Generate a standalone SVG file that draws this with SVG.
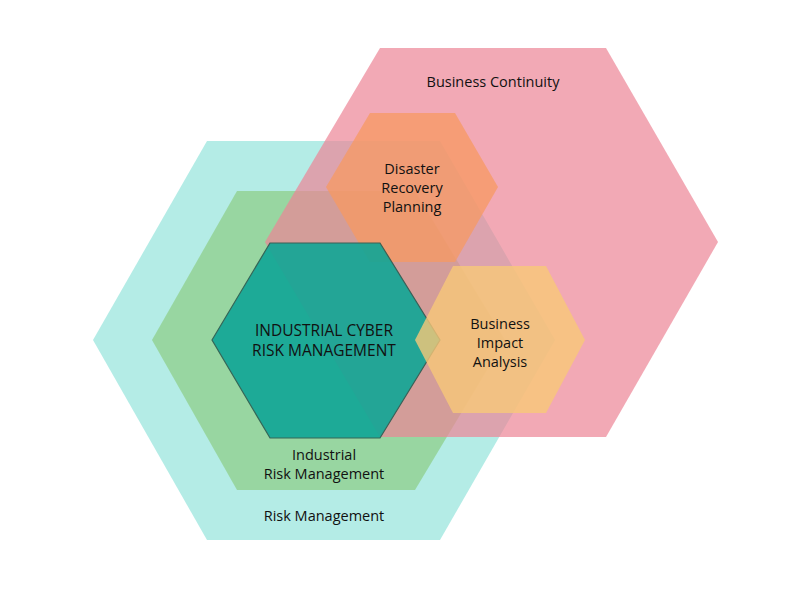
<svg xmlns="http://www.w3.org/2000/svg" width="800" height="591" viewBox="0 0 800 591">
<style>
.t{font-family:"Open Sans","Liberation Sans",sans-serif;font-size:14.5px;fill:#111;text-anchor:middle;font-weight:500}
.b{font-size:15.5px}
</style>
<rect width="800" height="591" fill="#fff"/>
<g id="risk-management"><polygon points="93,340 207,141 440,141 555,340 440,540 207,540" fill="#b4ece6"/></g>
<g id="industrial-risk-management"><polygon points="152,340 237,191 415,191 505,340 415,490 237,490" fill="#8fcf8a" opacity="0.75"/></g>
<g id="business-continuity"><polygon points="265,242 380,48 606,48 718,242 606,437 380,437" fill="#ec8596" opacity="0.7"/></g>
<g id="disaster-recovery"><polygon points="326,187 370,113 455,113 498,187 455,262 370,262" fill="#f79a62" opacity="0.75"/></g>
<g id="industrial-cyber"><polygon points="212,340 270,243 380,243 440,340 380,438 270,438" fill="#10a696" opacity="0.9" stroke="#2a5a50" stroke-width="1.2"/></g>
<g id="business-impact"><polygon points="415,340 453,266 546,266 585,340 546,413 453,413" fill="#f8c878" opacity="0.8"/></g>
<g id="labels">
<text class="t" x="493" y="87">Business Continuity</text>
<text class="t" x="412" y="174">Disaster</text>
<text class="t" x="412" y="193">Recovery</text>
<text class="t" x="412" y="212">Planning</text>
<text class="t b" x="324" y="336">INDUSTRIAL CYBER</text>
<text class="t b" x="324" y="356">RISK MANAGEMENT</text>
<text class="t" x="500" y="329">Business</text>
<text class="t" x="500" y="348">Impact</text>
<text class="t" x="500" y="367">Analysis</text>
<text class="t" x="324" y="460">Industrial</text>
<text class="t" x="324" y="479">Risk Management</text>
<text class="t" x="324" y="521">Risk Management</text>
</g>
<g id="connectors"/>
</svg>
